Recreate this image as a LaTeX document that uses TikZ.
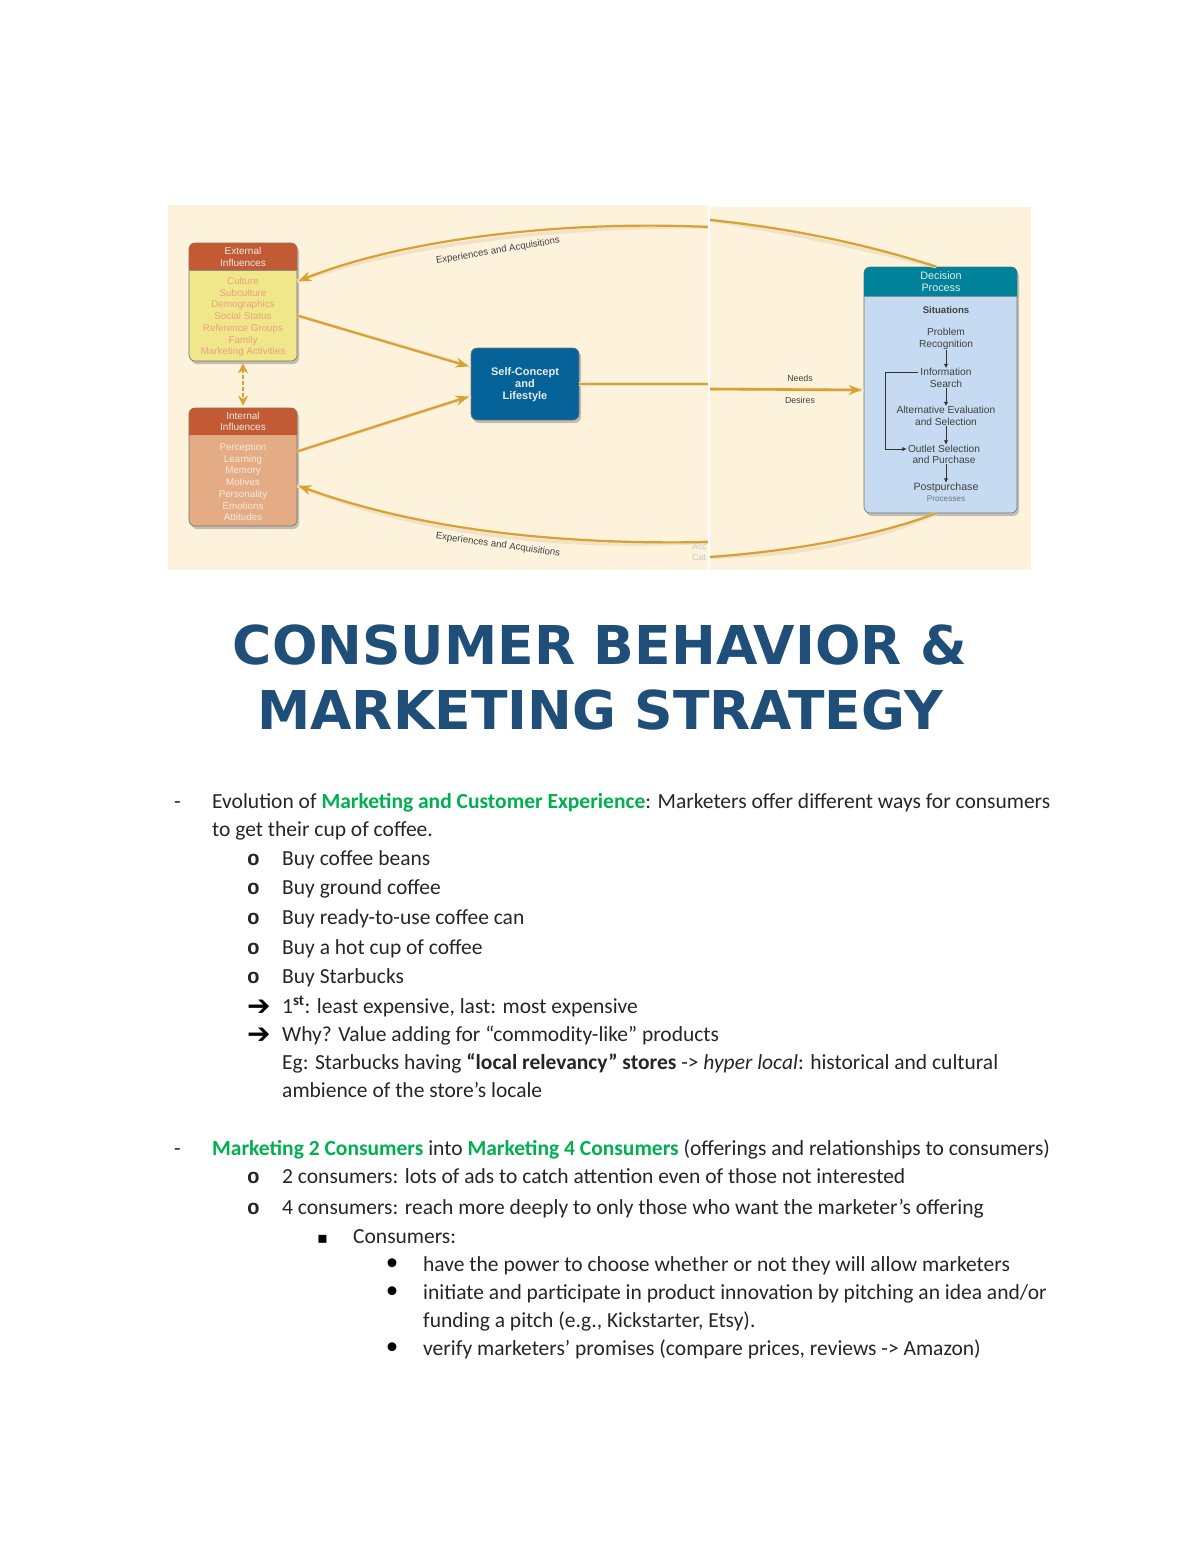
\documentclass[tikz,border=0pt]{standalone}
\usepackage{fontspec}
\setmainfont{Carlito}
\newfontfamily\titlefont{DejaVu Sans}
\newfontfamily\figfont{Liberation Sans}
\newfontfamily\monofont{Liberation Mono}
\newfontfamily\symfont{DejaVu Sans}
\usetikzlibrary{arrows.meta,shadows,calc}
\definecolor{bgcream}{HTML}{FDF2DC}
\definecolor{arrowgold}{HTML}{D9A032}
\definecolor{shadowtan}{HTML}{EFE2C6}
\definecolor{hdrust}{HTML}{C25A33}
\definecolor{extyellow}{HTML}{F0E68A}
\definecolor{exttext}{HTML}{E8A47C}
\definecolor{intpeach}{HTML}{E3AC85}
\definecolor{inttext}{HTML}{F8E8D8}
\definecolor{selfblue}{HTML}{06639A}
\definecolor{decteal}{HTML}{00829A}
\definecolor{declight}{HTML}{C6DBF1}
\definecolor{titleblue}{HTML}{1F4E79}
\definecolor{mkgreen}{HTML}{00B050}
\definecolor{bodyink}{HTML}{262626}
\newcommand{\grn}[1]{\textcolor{mkgreen}{\textbf{#1}}}
\tikzset{
  x=1pt,y=-1pt,
  figbox/.style={draw=black!55,line width=.6pt,rounded corners=6pt,inner sep=0pt,
    drop shadow={shadow xshift=2pt,shadow yshift=-3pt,opacity=.45}},
  hdtext/.style={font=\figfont\fontsize{10}{11.6}\selectfont,align=center,text=white!92!black,inner sep=0pt},
  listtext/.style={font=\figfont\fontsize{9.8}{11.75}\selectfont,align=center,inner sep=0pt},
  dectext/.style={font=\figfont\fontsize{10.2}{11.6}\selectfont,align=center,inner sep=0pt,text=black!75},
  flow/.style={draw=arrowgold,line width=2.2pt},
  flowtip/.style={flow,-{Stealth[length=13pt,width=10pt]}},
  flowshadow/.style={draw=shadowtan,line width=3.5pt},
  inner/.style={draw=black!80,line width=1pt,-{Latex[length=4.5pt,width=4.5pt]}},
  body/.style={anchor=base west,inner sep=0pt,font=\fontsize{21.5}{24}\selectfont,text=bodyink},
  obullet/.style={body,font=\monofont\bfseries\fontsize{21}{24}\selectfont},
  arbullet/.style={body,font=\symfont\bfseries\fontsize{28}{24}\selectfont,text=black},
  dot/.style={body,font=\symfont\bfseries\fontsize{25}{24}\selectfont,text=black},
  titleline/.style={anchor=base,inner sep=0pt,font=\titlefont\bfseries\fontsize{53.5}{60}\selectfont,text=titleblue},
  smalllabel/.style={font=\figfont\fontsize{8.8}{10}\selectfont,text=black!75,inner sep=0pt},
  sloped label/.style={font=\figfont\fontsize{9.6}{10}\selectfont,text=black!75,inner sep=0pt},
}
\begin{document}
\begin{tikzpicture}
\useasboundingbox (0,0) rectangle (1200,1553);
\fill[white] (0,0) rectangle (1200,1553);
% backgrounds
\fill[bgcream] (168,205) rectangle (708,570);
\fill[bgcream] (710,207) rectangle (1031,570);
\node[smalllabel,text=black!22,anchor=base west] (faintA) at (692,549) {Acc};
\node[smalllabel,text=black!22,anchor=base west] (faintB) at (692,560) {Cat};
% boxes
\node[figbox,fill=extyellow,minimum width=108pt,minimum height=118pt] (ext) at (243,302) {};
\node[figbox,fill=intpeach,minimum width=108pt,minimum height=118pt] (int) at (243,467) {};
\node[figbox,fill=selfblue,minimum width=108pt,minimum height=72pt] (self) at (525,384) {};
\node[figbox,fill=declight,minimum width=153pt,minimum height=246pt] (dec) at (940.5,390) {};
\fill[hdrust,rounded corners=6pt] (189,243) -- (297,243) -- (297,252) [sharp corners] -- (297,270) -- (189,270) -- (189,252) [rounded corners=6pt] -- cycle;
\fill[hdrust,rounded corners=6pt] (189,408) -- (297,408) -- (297,417) [sharp corners] -- (297,435) -- (189,435) -- (189,417) [rounded corners=6pt] -- cycle;
\fill[decteal,rounded corners=6pt] (864,267) -- (1017,267) -- (1017,276) [sharp corners] -- (1017,296) -- (864,296) -- (864,276) [rounded corners=6pt] -- cycle;
\draw[black!45,line width=.5pt] (189,270.5) -- (297,270.5) (864,296.5) -- (1017,296.5);
% box text
\node[hdtext] (extH) at (243,257) {External\\Influences};
\node[listtext,text=exttext] (extL) at (243,317) {Culture\\Subculture\\Demographics\\Social Status\\Reference Groups\\Family\\Marketing Activities};
\node[hdtext] (intH) at (243,421.5) {Internal\\Influences};
\node[listtext,text=inttext] (intL) at (243,482) {Perception\\Learning\\Memory\\Motives\\Personality\\Emotions\\Attitudes};
\node[font=\figfont\bfseries\fontsize{11}{12}\selectfont,align=center,text=white!92!black,inner sep=0pt] (selfT) at (525,385) {Self-Concept\\and\\Lifestyle};
\node[hdtext,font=\figfont\fontsize{10.8}{12}\selectfont] (decH) at (941,281.5) {Decision\\Process};
\node[dectext,font=\figfont\bfseries\fontsize{9.6}{11}\selectfont] (sit) at (946,310.5) {Situations};
\node[dectext] (prob) at (946,339) {Problem\\Recognition};
\node[dectext] (info) at (946,378) {Information\\Search};
\node[dectext] (alt) at (946,416) {Alternative Evaluation\\and Selection};
\node[dectext] (outlet) at (944,454.5) {Outlet Selection\\and Purchase};
\node[dectext,font=\figfont\fontsize{10.6}{11}\selectfont] (post) at (946,488) {Postpurchase};
\node[dectext,font=\figfont\fontsize{8.2}{10}\selectfont,text=black!55] (proc) at (946,498.5) {Processes};
% decision inner arrows
\draw[inner] (prob.south) -- (info.north);
\draw[inner] (info.south) -- (alt.north);
\draw[inner] (alt.south) -- (outlet.north -| alt.south);
\draw[inner] (outlet.south -| alt.south) -- (post.north);
\coordinate (loopA) at (885,372);
\coordinate (loopB) at (885,449);
\draw[inner] ([xshift=-2pt,yshift=6pt]info.west) -- (loopA) -- (loopB) -- ([xshift=-1pt,yshift=5.5pt]outlet.west);
% seam points
\coordinate (topL) at (708,227);
\coordinate (topR) at (710,220);
\coordinate (botL) at (708,542);
\coordinate (botR) at (710,557);
\coordinate (midL) at (708,384);
\coordinate (midR) at (710,389);
% soft arrow shadows
\begin{scope}[yshift=-5pt,xshift=1pt]
\draw[flowshadow] (topL) .. controls (560,220) and (400,240) .. (ext.21.3);
\draw[flowshadow] (topR) .. controls (790,228) and (870,245) .. (dec.92.6);
\draw[flowshadow] (botL) .. controls (560,545) and (420,530) .. (int.-19.4);
\draw[flowshadow] (botR) .. controls (790,551) and (870,538) .. (dec.268.4);
\draw[flowshadow] (self.east) -- (midL);
\draw[flowshadow] (midR) -- (dec.west);
\draw[flowshadow] (ext.-14.5) -- (self.162.5);
\draw[flowshadow] (int.16.5) -- (self.193.5);
\end{scope}
% connectors
\draw[flowtip] (topL) .. controls (560,220) and (400,240) .. ([xshift=1pt]ext.21.3);
\draw[flow] (topR) .. controls (790,228) and (870,245) .. (dec.92.6);
\draw[flowtip] (botL) .. controls (560,545) and (420,530) .. ([xshift=1pt]int.-19.4);
\draw[flow] (botR) .. controls (790,551) and (870,538) .. (dec.268.4);
\draw[flow,line width=2.6pt] (self.east) -- (midL);
\draw[flowtip,line width=2.6pt] (midR) -- ([xshift=-2pt]dec.west);
\draw[flowtip] (ext.-14.5) -- ([xshift=-2pt]self.162.5);
\draw[flowtip] (int.16.5) -- ([xshift=-2pt]self.193.5);
\draw[flow,line width=2pt,dash pattern=on 4pt off 2pt,{Stealth[length=10pt,width=10pt]}-{Stealth[length=10pt,width=10pt]}] ([yshift=-2pt]ext.south) -- ([yshift=2pt]int.north);
% arrow labels
\node[sloped label,rotate=9.5] (expT) at (498,251) {Experiences and Acquisitions};
\node[sloped label,rotate=-8] (expB) at (498,545) {Experiences and Acquisitions};
\node[smalllabel] (needs) at (800,378) {Needs};
\node[smalllabel] (desires) at (800,400) {Desires};
% title
\node[titleline] (t1) at (600,664) {CONSUMER BEHAVIOR \&};
\node[titleline] (t2) at (600,729) {MARKETING STRATEGY};
% body
\node[body] (d1) at (174,808) {-};
\node[body] (l1) at (212,808) {Evolution of \grn{Marketing and Customer Experience}: Marketers offer different ways for consumers};
\node[body] (l2) at (212,836) {to get their cup of coffee.};
\foreach \yy/\nm/\txt in {865/a/Buy coffee beans,894/b/Buy ground coffee,924/c/Buy ready-to-use coffee can,954/d/Buy a hot cup of coffee,983/e/Buy Starbucks}{
  \node[obullet] (o\nm) at (247,\yy) {o};
  \node[body] (s\nm) at (282,\yy) {\txt};
}
\node[arbullet] (ar1) at (247,1015) {➔};
\node[body] (l3) at (282,1013) {1\textsuperscript{\textbf{st}}: least expensive, last: most expensive};
\node[arbullet] (ar2) at (247,1043) {➔};
\node[body] (l4) at (282,1041) {Why? Value adding for “commodity-like” products};
\node[body] (l5) at (282,1069) {Eg: Starbucks having \textbf{“local relevancy” stores} -> \textit{hyper local}: historical and cultural};
\node[body] (l6) at (282,1097) {ambience of the store’s locale};
\node[body] (d2) at (174,1155) {-};
\node[body] (l7) at (212,1155) {\grn{Marketing 2 Consumers} into \grn{Marketing 4 Consumers} (offerings and relationships to consumers)};
\node[obullet] (o1) at (247,1183) {o};
\node[body] (l8) at (282,1183) {2 consumers: lots of ads to catch attention even of those not interested};
\node[obullet] (o2) at (247,1214) {o};
\node[body] (l9) at (282,1214) {4 consumers: reach more deeply to only those who want the marketer’s offering};
\node[body,font=\symfont\fontsize{16}{24}\selectfont,text=black] (sq) at (317,1243) {▪};
\node[body] (l10) at (353,1243) {Consumers:};
\node[dot] (b1) at (384,1272) {•};
\node[body] (l11) at (423,1271) {have the power to choose whether or not they will allow marketers};
\node[dot] (b2) at (384,1300) {•};
\node[body] (l12) at (423,1299) {initiate and participate in product innovation by pitching an idea and/or};
\node[body] (l13) at (423,1327) {funding a pitch (e.g., Kickstarter, Etsy).};
\node[dot] (b3) at (384,1356) {•};
\node[body] (l14) at (423,1355) {verify marketers’ promises (compare prices, reviews -> Amazon)};
\end{tikzpicture}
\end{document}
